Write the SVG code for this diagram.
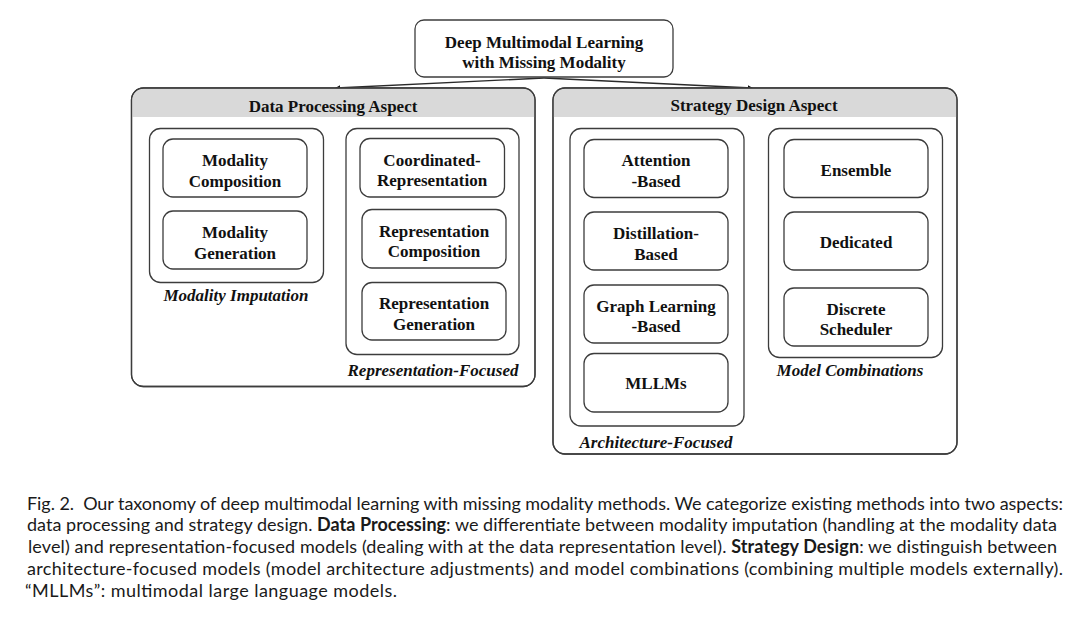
<svg xmlns="http://www.w3.org/2000/svg" width="1080" height="624" viewBox="0 0 1080 624">
<style>
  .box { fill: #ffffff; stroke: #3c3c3c; stroke-width: 1.3; }
  .hdr { fill: #d9d9d9; stroke: none; }
  .t { font-family: "Liberation Serif", "Times New Roman", serif; font-weight: bold; font-size: 17px; fill: #111111; text-anchor: middle; }
  .it { font-family: "Liberation Serif", "Times New Roman", serif; font-weight: bold; font-style: italic; font-size: 17px; fill: #111111; text-anchor: middle; }
  .cap { font-family: "Lato", "Open Sans", sans-serif; font-size: 18px; fill: #1a1a1a; }
  .capb { font-weight: bold; }
  .conn { stroke: #2a2a2a; stroke-width: 1.3; fill: none; }
</style>
<defs>
  <marker id="ah" viewBox="0 0 6 6" refX="5" refY="3" markerWidth="4" markerHeight="4" orient="auto" markerUnits="strokeWidth">
    <path d="M0,0 L6,3 L0,6 z" fill="#111111"/>
  </marker>
</defs>
<rect width="1080" height="624" fill="#ffffff"/>

<g id="connectors">
  <path class="conn" d="M544,78 L336,88" marker-end="url(#ah)"/>
  <path class="conn" d="M544,78 L752,88" marker-end="url(#ah)"/>
</g>

<g id="root">
  <rect class="box" x="415" y="20" width="258" height="57" rx="9"/>
  <text class="t" x="544" y="48">Deep Multimodal Learning</text>
  <text class="t" x="544" y="68">with Missing Modality</text>
</g>

<g id="data-processing-aspect">
  <rect class="box" x="131.5" y="88" width="403.5" height="298.5" rx="12"/>
  <path class="hdr" d="M132.2,117 L132.2,100 A11.3,11.3 0 0 1 143.5,88.7 L523,88.7 A11.3,11.3 0 0 1 534.3,100 L534.3,117 Z"/>
  <rect x="131.5" y="88" width="403.5" height="298.5" rx="12" fill="none" stroke="#3c3c3c" stroke-width="1.3"/>
  <text class="t" x="333" y="111.5">Data Processing Aspect</text>
</g>

<g id="modality-imputation">
  <rect class="box" x="149.5" y="128.5" width="174" height="154" rx="11"/>
  <text class="it" x="236" y="301">Modality Imputation</text>
</g>
<g id="modality-composition">
  <rect class="box" x="163" y="139" width="144" height="58" rx="10"/>
  <text class="t" x="235" y="166">Modality</text>
  <text class="t" x="235" y="186.5">Composition</text>
</g>
<g id="modality-generation">
  <rect class="box" x="163" y="211" width="144" height="58" rx="10"/>
  <text class="t" x="235" y="238">Modality</text>
  <text class="t" x="235" y="258.5">Generation</text>
</g>

<g id="representation-focused">
  <rect class="box" x="346" y="128.5" width="173" height="226" rx="11"/>
  <text class="it" x="433" y="376">Representation-Focused</text>
</g>
<g id="coordinated-representation">
  <rect class="box" x="360" y="138.5" width="144.5" height="58.5" rx="10"/>
  <text class="t" x="432" y="165.5">Coordinated-</text>
  <text class="t" x="432" y="186">Representation</text>
</g>
<g id="representation-composition">
  <rect class="box" x="362" y="209.5" width="144" height="58.5" rx="10"/>
  <text class="t" x="434" y="236.5">Representation</text>
  <text class="t" x="434" y="257">Composition</text>
</g>
<g id="representation-generation">
  <rect class="box" x="362" y="282.5" width="144" height="57.5" rx="10"/>
  <text class="t" x="434" y="309">Representation</text>
  <text class="t" x="434" y="329.5">Generation</text>
</g>

<g id="strategy-design-aspect">
  <rect class="box" x="553" y="88" width="404" height="366" rx="12"/>
  <path class="hdr" d="M553.7,117 L553.7,100 A11.3,11.3 0 0 1 565,88.7 L945,88.7 A11.3,11.3 0 0 1 956.3,100 L956.3,117 Z"/>
  <rect x="553" y="88" width="404" height="366" rx="12" fill="none" stroke="#3c3c3c" stroke-width="1.3"/>
  <text class="t" x="754" y="111">Strategy Design Aspect</text>
</g>

<g id="architecture-focused">
  <rect class="box" x="570" y="128.5" width="174" height="297.5" rx="11"/>
  <text class="it" x="656" y="448">Architecture-Focused</text>
</g>
<g id="attention-based">
  <rect class="box" x="584" y="139.5" width="144" height="58" rx="10"/>
  <text class="t" x="656" y="166">Attention</text>
  <text class="t" x="656" y="186.5">-Based</text>
</g>
<g id="distillation-based">
  <rect class="box" x="584" y="212" width="144" height="58" rx="10"/>
  <text class="t" x="656" y="239">Distillation-</text>
  <text class="t" x="656" y="259.5">Based</text>
</g>
<g id="graph-learning-based">
  <rect class="box" x="584" y="285" width="144" height="58" rx="10"/>
  <text class="t" x="656" y="311.5">Graph Learning</text>
  <text class="t" x="656" y="332">-Based</text>
</g>
<g id="mllms">
  <rect class="box" x="584" y="353.5" width="144" height="58.5" rx="10"/>
  <text class="t" x="656" y="389">MLLMs</text>
</g>

<g id="model-combinations">
  <rect class="box" x="768.5" y="128.5" width="174" height="229" rx="11"/>
  <text class="it" x="850" y="376">Model Combinations</text>
</g>
<g id="ensemble">
  <rect class="box" x="784" y="139.5" width="144" height="58" rx="10"/>
  <text class="t" x="856" y="175.5">Ensemble</text>
</g>
<g id="dedicated">
  <rect class="box" x="784" y="212" width="144" height="58" rx="10"/>
  <text class="t" x="856" y="248">Dedicated</text>
</g>
<g id="discrete-scheduler">
  <rect class="box" x="784" y="288" width="144" height="58" rx="10"/>
  <text class="t" x="856" y="314.5">Discrete</text>
  <text class="t" x="856" y="335">Scheduler</text>
</g>

<g id="caption">
  <text class="cap" x="27" y="509.5" textLength="1036" xml:space="preserve">Fig. 2.  Our taxonomy of deep multimodal learning with missing modality methods. We categorize existing methods into two aspects:</text>
  <text class="cap" x="27" y="531.3" textLength="1030">data processing and strategy design. <tspan class="capb">Data Processing</tspan>: we differentiate between modality imputation (handling at the modality data</text>
  <text class="cap" x="28" y="553" textLength="1029">level) and representation-focused models (dealing with at the data representation level). <tspan class="capb">Strategy Design</tspan>: we distinguish between</text>
  <text class="cap" x="27" y="574.8" textLength="1036">architecture-focused models (model architecture adjustments) and model combinations (combining multiple models externally).</text>
  <text class="cap" x="25" y="596.5" textLength="372">“MLLMs”: multimodal large language models.</text>
</g>
</svg>
